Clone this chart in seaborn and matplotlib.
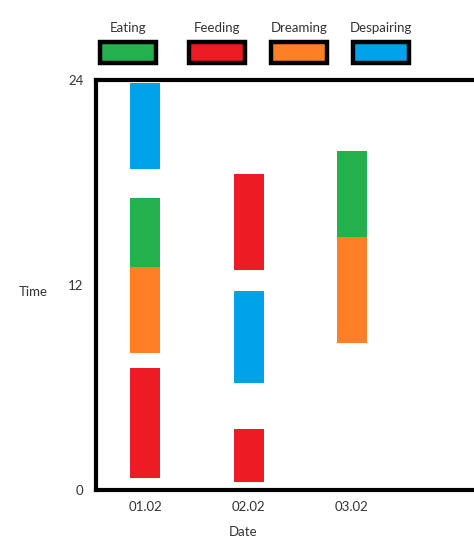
import numpy as np
import pandas as pd
import seaborn as sns
import matplotlib
matplotlib.use("Agg")
import matplotlib.pyplot as plt
from matplotlib.patches import Rectangle

# legend / activity info
activities = ["Eating", "Feeding", "Dreaming", "Despairing"]
act_colors = ["#22B14C", "#ED1C24", "#FF7F27", "#00A2E8"]

# one row per time block
dates = ["01.02", "01.02", "01.02", "01.02", "02.02", "02.02", "02.02", "03.02", "03.02"]
block_act = ["Despairing", "Eating", "Dreaming", "Feeding",
             "Feeding", "Despairing", "Feeding",
             "Eating", "Dreaming"]
start = [18.8, 13.05, 8.0, 0.7, 12.9, 6.25, 0.45, 14.8, 8.6]
end = [23.8, 17.1, 13.05, 7.15, 18.5, 11.65, 3.55, 19.85, 14.8]

date_order = ["01.02", "02.02", "03.02"]
yticks = [0, 12, 24]

df = pd.DataFrame({"date": dates, "activity": block_act, "start": start, "end": end})
df["dur"] = df["end"] - df["start"]
cmap = dict(zip(activities, act_colors))

sns.set_style("white")
plt.rcParams["font.family"] = ["Lato", "DejaVu Sans"]
txt_col = "#333333"

fig = plt.figure(figsize=(4.74, 5.48), dpi=100)
ax = fig.add_axes([96 / 474, 58 / 548, 1 - 96 / 474, 410 / 548])

for _, r in df.iterrows():
    sns.barplot(x=[r["date"]], y=[r["dur"]], order=date_order, bottom=r["start"],
                color=cmap[r["activity"]], width=0.29, linewidth=0, saturation=1, ax=ax)

ax.set_xlim(-0.475, 3.18)
ax.set_ylim(0, 24)
ax.set_yticks(yticks)
ax.set_yticklabels([str(t) for t in yticks])
for s in ["left", "top", "bottom"]:
    ax.spines[s].set_linewidth(3)
    ax.spines[s].set_color("black")
ax.spines["right"].set_visible(False)
ax.tick_params(axis="both", length=0, labelsize=9.5, labelcolor=txt_col)
ax.tick_params(axis="y", pad=9)
ax.tick_params(axis="x", pad=8)
ax.set_xlabel("Date", fontsize=9.5, color=txt_col)
ax.xaxis.set_label_coords(0.389, -0.088)
ax.set_ylabel("Time", fontsize=9.5, color=txt_col, rotation=0, ha="center", va="center")
ax.yaxis.set_label_coords(-0.167, 0.483)

# hand-drawn style legend on top: label above a bordered swatch
leg_x = [100, 189, 271, 353]
for xl, lab, col in zip(leg_x, activities, act_colors):
    fig.add_artist(Rectangle((xl / 474, (548 - 63) / 548), 56 / 474, 21 / 548,
                             transform=fig.transFigure, facecolor=col,
                             edgecolor="black", linewidth=3.2))
    fig.text((xl + 28) / 474, (548 - 28) / 548, lab, ha="center", va="center",
             fontsize=9.5, color=txt_col)

fig.savefig("out.png", dpi=100)
